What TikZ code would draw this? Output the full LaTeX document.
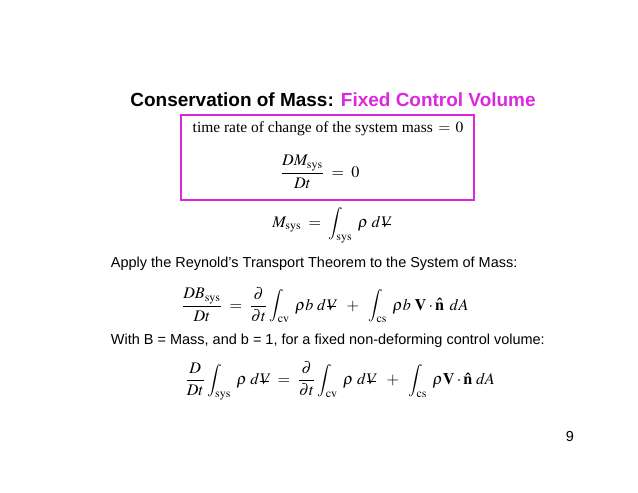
\documentclass[tikz,border=0pt]{standalone}
\usepackage{fontspec}
\usepackage{amsmath}
\usepackage{mathptmx}
\setmainfont{Liberation Serif}
\newfontfamily\arial{Liberation Sans}
\definecolor{mag}{RGB}{220,40,220}
\newcommand\vol{\mbox{\ooalign{$\mathit{V}$\cr\hidewidth\raisebox{0.45ex}{\rule{0.55em}{0.07ex}}\hidewidth\cr}}}
\newcommand\bfn{\mathbf{\hat n}}
\begin{document}
\begin{tikzpicture}[x=0.25mm,y=-0.25mm,
  sans/.style={font=\arial\fontsize{10.3}{12}\selectfont},
  mth/.style={font=\fontsize{11.5}{13}\selectfont}]
\useasboundingbox (0,0) rectangle (638,493);
\fill[white] (0,0) rectangle (638,493);
\node[font=\arial\bfseries\fontsize{13.5}{16}\selectfont] (title) at (333,100) {Conservation of Mass: \textcolor{mag}{Fixed Control Volume}};
\draw[mag,line width=0.9pt] (181,115) rectangle (474,200);
\node[font=\fontsize{11}{13}\selectfont] (t1) at (328,129) {time rate of change of the system mass $\,=\,0$};
\node[mth] (e1) at (320,172) {$\dfrac{DM_{\mathrm{sys}}}{Dt}\;=\;0$};
\node[mth] (e2) at (332,225) {$M_{\mathrm{sys}}\;=\;\displaystyle\int_{\mathrm{sys}}\;\rho\;d\vol$};
\node[sans,anchor=west] (a1) at (106,264) {Apply the Reynold’s Transport Theorem to the System of Mass:};
\node[mth] (e3) at (325,305) {$\dfrac{DB_{\mathrm{sys}}}{Dt}\;=\;\dfrac{\partial}{\partial t}\displaystyle\int_{\mathrm{cv}}\;\rho b\;d\vol\;\;+\;\;\int_{\mathrm{cs}}\;\rho b\;\mathbf{V}\cdot\bfn\;\,dA$};
\node[sans,anchor=west] (a2) at (106,341) {With B = Mass, and b = 1, for a fixed non-deforming control volume:};
\node[mth] (e4) at (340,381) {$\dfrac{D}{Dt}\displaystyle\int_{\mathrm{sys}}\;\rho\;d\vol\;=\;\dfrac{\partial}{\partial t}\int_{\mathrm{cv}}\;\rho\;d\vol\;\;+\;\;\int_{\mathrm{cs}}\;\rho\mathbf{V}\cdot\bfn\;dA$};
\node[sans] (pg) at (570,437) {9};
\end{tikzpicture}
\end{document}
